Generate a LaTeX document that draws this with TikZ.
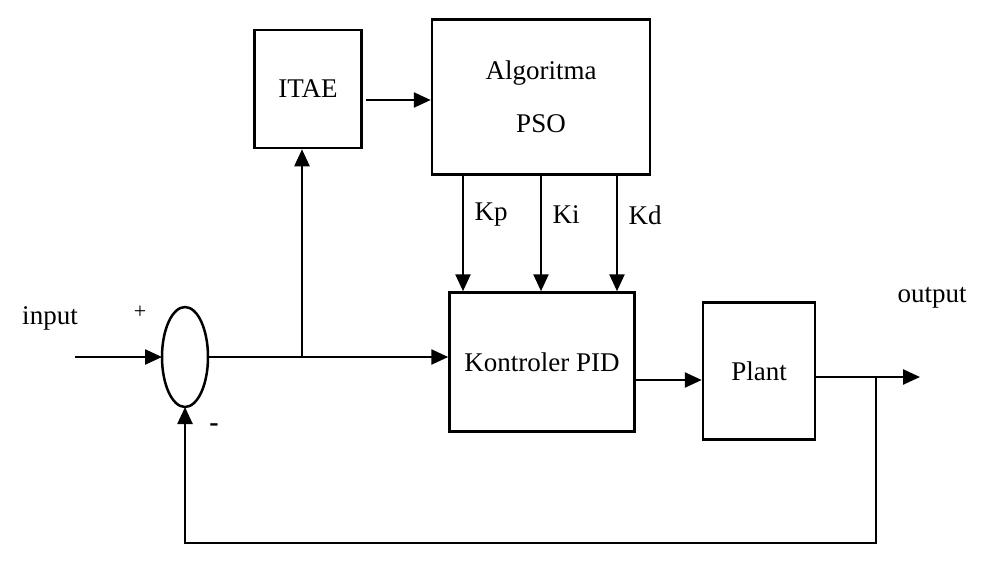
\documentclass[tikz,border=0pt]{standalone}
\usepackage{fontspec}
\setmainfont{Liberation Serif}
\usetikzlibrary{arrows.meta}
\begin{document}
\begin{tikzpicture}[x=1pt,y=-1pt,
  blk/.style={draw,line width=2.5pt,inner sep=0pt},
  arr/.style={line width=2.5pt,-{Triangle[length=17pt,width=15pt]}},
  lbl/.style={font=\fontsize{27}{31}\selectfont}]
\useasboundingbox (0,0) rectangle (983,587);
\node[blk,minimum width=107pt,minimum height=118pt,lbl] (itae) at (308,89) {ITAE};
\node[blk,minimum width=218pt,minimum height=155pt,lbl,align=center] (pso) at (541,97) {Algoritma\\[22pt]PSO};
\node[blk,minimum width=185pt,minimum height=139pt,lbl] (pid) at (542,362) {Kontroler PID};
\node[blk,minimum width=112pt,minimum height=137pt,lbl] (plant) at (759,371) {Plant};
\draw[line width=2.5pt] (185,357) ellipse (23 and 50);
\coordinate (sl) at (162,357);
\coordinate (sr) at (208,357);
\coordinate (sb) at (185,407);
\coordinate (in) at (75,357);
\coordinate (br) at (302,357);
\coordinate (out) at (920,377);
\coordinate (fb) at (876,377);
\draw[arr] (in) -- (sl);
\draw[arr] (sr) -- (pid.west |- sr);
\draw[arr] (br) -- (itae.south -| br);
\draw[arr] (itae.east |- 0,100) ++(3,0) -- (pso.west |- 0,100);
\foreach \x/\t in {463/Kp,541/Ki,617/Kd}{
  \draw[arr] (pso.south -| \x,0) -- (pid.north -| \x,0);
  \node[lbl,anchor=west] at (\x+8,215) {\t};
}
\draw[arr] (pid.east |- 0,380) -- (plant.west |- 0,380);
\draw[arr] (plant.east |- out) -- (out);
\draw[arr] (fb) -- (876,543) -- (185,543) -- (sb);
\node[lbl] at (50,318) {input};
\node[lbl] at (932,298) {output};
\node[font=\fontsize{22}{26}\selectfont] at (140,312) {+};
\node[font=\bfseries\fontsize{28}{30}\selectfont] at (214,428) {-};
\end{tikzpicture}
\end{document}
